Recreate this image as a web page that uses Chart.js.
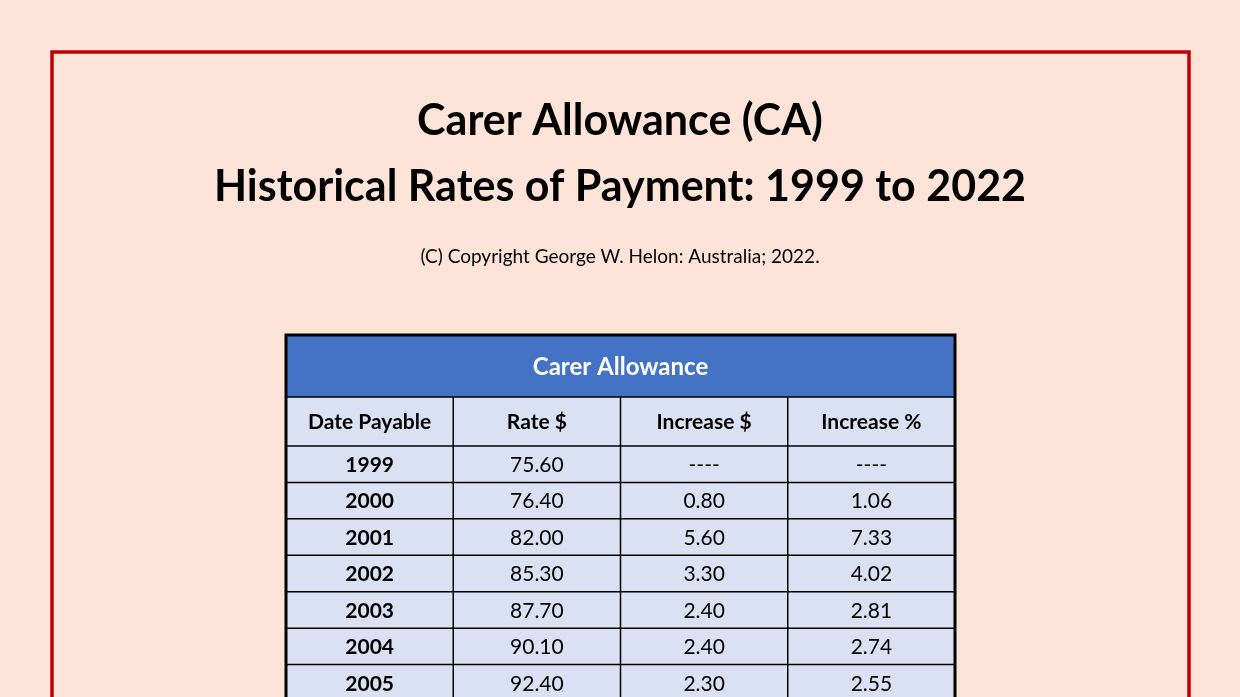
<!DOCTYPE html>
<html><head><meta charset="utf-8">
<script src="https://cdn.jsdelivr.net/npm/chart.js@4"></script>
<style>html,body{margin:0;padding:0;overflow:hidden;background:#fde3d8}#c{display:block}</style>
</head><body>
<canvas id="c" width="1240" height="720"></canvas>
<script>
// table data (visible part)
var columns = ["Date Payable", "Rate $", "Increase $", "Increase %"];
var years = ["1999", "2000", "2001", "2002", "2003", "2004", "2005"];
var rates = ["75.60", "76.40", "82.00", "85.30", "87.70", "90.10", "92.40"];
var incDollar = ["----", "0.80", "5.60", "3.30", "2.40", "2.40", "2.30"];
var incPct = ["----", "1.06", "7.33", "4.02", "2.81", "2.74", "2.55"];

var FONT = "Lato, 'Noto Sans', sans-serif";

var tablePlugin = {
  id: "tablePlugin",
  beforeDraw: function (chart) {
    var c = chart.ctx;
    c.save();
    c.fillStyle = "#fde3d8";
    c.fillRect(0, 0, chart.width, chart.height);
    c.strokeStyle = "#c00000";
    c.lineWidth = 3.5;
    c.strokeRect(52, 52, 1137, 700);
    c.fillStyle = "#000";
    c.textAlign = "center";
    c.textBaseline = "middle";
    c.font = "bold 43px " + FONT;
    c.fillText("Carer Allowance (CA)", 620, 121);
    c.fillText("Historical Rates of Payment: 1999 to 2022", 620, 187);
    c.font = "19px " + FONT;
    c.fillText("(C) Copyright George W. Helon: Australia; 2022.", 620, 257);
    c.restore();
  },
  afterDraw: function (chart) {
    var c = chart.ctx, x = chart.scales.x, y = chart.scales.y, a = chart.chartArea;
    var cw = a.width / columns.length, rh = a.height / years.length;
    var colHeadH = 49, titleH = 62;
    var top = a.top - colHeadH - titleH;
    c.save();
    c.textAlign = "center";
    c.textBaseline = "middle";
    // title bar
    c.fillStyle = "#4472c4";
    c.fillRect(a.left, top, a.width, titleH);
    c.fillStyle = "#fff";
    c.font = "bold 24px " + FONT;
    c.fillText("Carer Allowance", (a.left + a.right) / 2, top + titleH / 2 + 1);
    // column headers and body
    c.fillStyle = "#d9e1f2";
    c.fillRect(a.left, a.top - colHeadH, a.width, colHeadH + a.height);
    c.fillStyle = "#000";
    c.font = "bold 21px " + FONT;
    columns.forEach(function (col, i) {
      c.fillText(col, x.getPixelForValue(i), a.top - colHeadH / 2 + 1);
    });
    var cols = [years, rates, incDollar, incPct];
    years.forEach(function (yr, r) {
      var py = y.getPixelForValue(r) + 1;
      cols.forEach(function (arr, i) {
        c.font = (i === 0 ? "bold " : "") + "21px " + FONT;
        c.fillText(arr[r], x.getPixelForValue(i), py);
      });
    });
    // grid lines
    c.strokeStyle = "#000";
    c.lineWidth = 1.5;
    c.beginPath();
    for (var i = 1; i < columns.length; i++) {
      var gx = a.left + i * cw;
      c.moveTo(gx, a.top - colHeadH); c.lineTo(gx, a.bottom);
    }
    for (var r = 0; r < years.length; r++) {
      var gy = a.top + r * rh;
      c.moveTo(a.left, gy); c.lineTo(a.right, gy);
    }
    c.moveTo(a.left, a.top - colHeadH); c.lineTo(a.right, a.top - colHeadH);
    c.stroke();
    c.lineWidth = 3;
    c.strokeRect(a.left, top, a.width, a.bottom - top + 40);
    c.restore();
  }
};

new Chart(document.getElementById("c").getContext("2d"), {
  type: "scatter",
  data: { labels: years, datasets: [{ data: [] }] },
  options: {
    responsive: false,
    animation: false,
    events: [],
    layout: { padding: { top: 446, left: 286, right: 285, bottom: 19 } },
    plugins: { legend: { display: false }, tooltip: { enabled: false } },
    scales: {
      x: { type: "category", labels: columns, offset: true, display: false },
      y: { type: "category", labels: years, offset: true, display: false }
    }
  },
  plugins: [tablePlugin]
});
</script>
</body></html>
